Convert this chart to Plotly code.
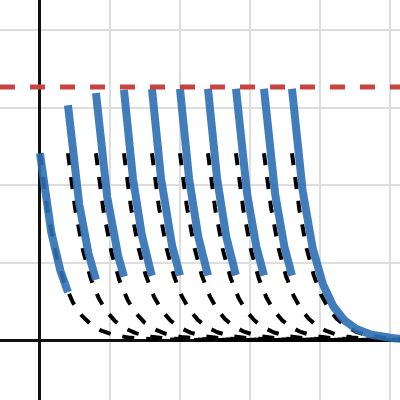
import numpy as np
import plotly.graph_objects as go

# dosing model
dose_times = [0.0, 0.4, 0.8, 1.2, 1.6, 2.0, 2.4, 2.8, 3.2, 3.6]
dose_amount = 2.41
decay_rate = 3.4
steady_peak = 3.265

x_min, x_max = -0.571, 5.143
y_min, y_max = -0.774, 4.387

fig = go.Figure()

# single-dose curves (black dashed)
for t0 in dose_times:
    t = np.linspace(t0, x_max, 300)
    fig.add_trace(go.Scatter(x=t, y=dose_amount * np.exp(-decay_rate * (t - t0)),
                             mode="lines", line=dict(color="black", width=4, dash="dash")))

# summed concentration (blue), drawn between doses
ends = dose_times[1:] + [x_max]
for i, (a, b) in enumerate(zip(dose_times, ends)):
    t = np.linspace(a, b, 300)
    y = sum(dose_amount * np.exp(-decay_rate * (t - d)) for d in dose_times[:i + 1])
    fig.add_trace(go.Scatter(x=t, y=y, mode="lines", opacity=0.9,
                             line=dict(color="#2d70b3", width=8)))

fig.add_trace(go.Scatter(x=[x_min, x_max], y=[steady_peak, steady_peak], mode="lines",
                         line=dict(color="#c74440", width=5, dash="dash")))

# major grid lines
for v in [4]:
    fig.add_shape(type="line", x0=v, x1=v, y0=y_min, y1=y_max, line=dict(color="#888", width=2), layer="below")
    fig.add_shape(type="line", x0=x_min, x1=x_max, y0=v, y1=v, line=dict(color="#888", width=2), layer="below")

fig.update_layout(
    width=400, height=400, margin=dict(l=0, r=0, t=0, b=0),
    plot_bgcolor="white", paper_bgcolor="white", showlegend=False,
    xaxis=dict(range=[x_min, x_max], dtick=1, showticklabels=False, gridcolor="#ddd", gridwidth=2,
               zeroline=True, zerolinecolor="#111", zerolinewidth=3),
    yaxis=dict(range=[y_min, y_max], dtick=1, showticklabels=False, gridcolor="#ddd", gridwidth=2,
               zeroline=True, zerolinecolor="#111", zerolinewidth=3),
)

fig.write_html("out.html", config={"displayModeBar": False})

# drop the browser's default page margin so the plot fills the window
with open("out.html") as f:
    html = f.read()
html = html.replace("<head>", "<head><style>body{margin:0;overflow:hidden}</style>", 1)
with open("out.html", "w") as f:
    f.write(html)
